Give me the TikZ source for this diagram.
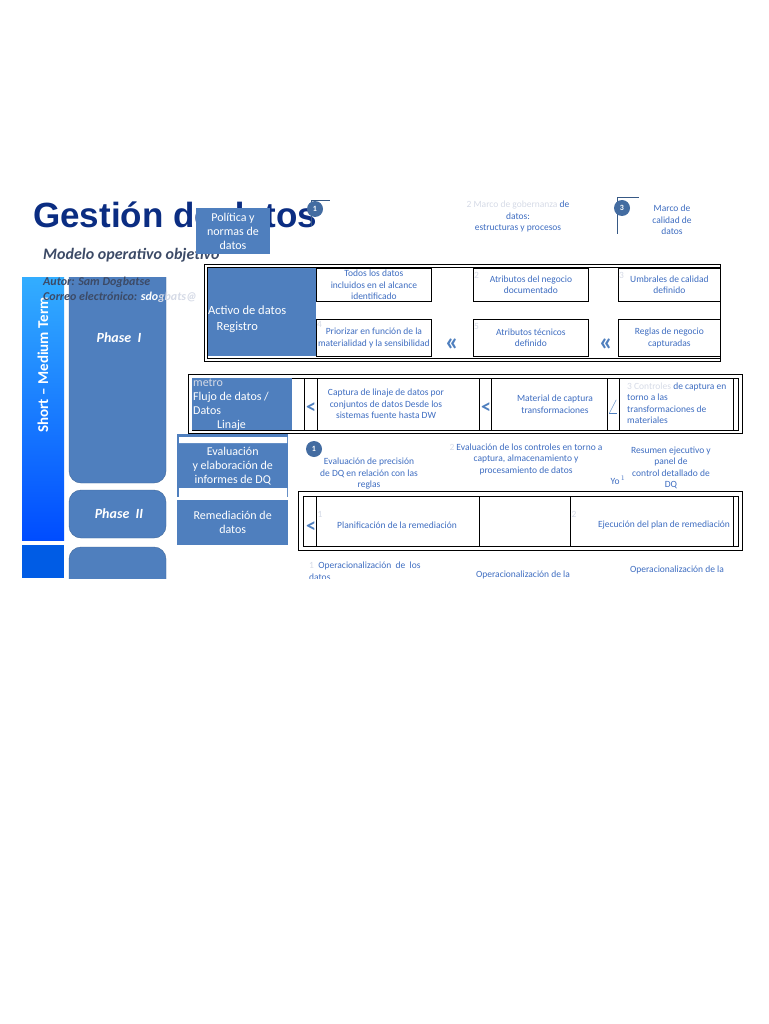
\documentclass[tikz,border=0pt]{standalone}
\usepackage{fontspec}
\setmainfont{Carlito}
\newfontfamily\titlefont{Liberation Sans}
\usetikzlibrary{positioning}
\definecolor{titleblue}{HTML}{0B2D82}
\definecolor{boxblue}{HTML}{4F7FBE}
\definecolor{txtblue}{HTML}{3D6CC0}
\definecolor{paleg}{HTML}{D5DAE6}
\definecolor{subgray}{HTML}{3C4A66}
\begin{document}
\begin{tikzpicture}[x=1pt,y=-1pt,
  bluebox/.style={fill=boxblue,text=white,font=\fontsize{12}{14}\selectfont,align=center,inner sep=1pt},
  cell/.style={draw,line width=.8pt,text=txtblue,font=\fontsize{9.5}{11.5}\selectfont,align=center,inner sep=1pt},
  lbl/.style={text=txtblue,font=\fontsize{9.5}{11.5}\selectfont,align=center,inner sep=1pt},
  num/.style={text=paleg,font=\fontsize{9.5}{11}\selectfont,inner sep=0pt},
  frame/.style={draw,line width=.8pt},
  phase/.style={fill=boxblue,rounded corners=12pt,draw=boxblue!80!black,line width=.4pt},
  bubble/.style={circle,fill=boxblue!85!black,text=white,font=\bfseries\fontsize{8}{8}\selectfont,inner sep=0pt,minimum size=16pt},
  chev/.style={text=boxblue,font=\bfseries\fontsize{26}{26}\selectfont,inner sep=0pt}]
\useasboundingbox (0,0) rectangle (768,1024);

% left bar and phases
\shade[top color=cyan!60!blue!80,bottom color=blue!70!cyan] (22,277) rectangle (64,540);
\node[rotate=90,text=white,font=\bfseries\fontsize{15}{15}\selectfont] (term) at (43,365) {Short -- Medium Term};
\fill[blue!60!cyan!90!black] (22,545) rectangle (64,578);
\begin{scope}
\clip (0,277) rectangle (768,578);
\draw[phase] (69,260) rectangle (166,483);
\draw[phase] (69,490) rectangle (166,538);
\draw[phase] (69,547) rectangle (166,600);
\end{scope}
\node[text=white,font=\bfseries\itshape\fontsize{14}{14}\selectfont] (ph1) at (119,338) {Phase~ I};
\node[text=white,font=\bfseries\itshape\fontsize{14}{14}\selectfont] (ph2) at (119,514) {Phase~ II};

% heading
\node[anchor=base west,text=titleblue,font=\titlefont\bfseries\fontsize{35}{35}\selectfont,inner sep=0pt] (title) at (33,227) {Gestión de datos};
\node[anchor=base west,text=subgray,font=\bfseries\itshape\fontsize{16}{16}\selectfont,inner sep=0pt] (sub) at (43,259) {Modelo operativo objetivo};
\node[anchor=base west,text=subgray,font=\bfseries\itshape\fontsize{12}{12}\selectfont,inner sep=0pt] (author) at (43,285) {Autor: Sam Dogbatse};
\node[anchor=base west,text=subgray,font=\bfseries\itshape\fontsize{12}{12}\selectfont,inner sep=0pt] (mail) at (43,300) {Correo electrónico: \textcolor{white}{sdo}\textcolor{paleg}{gbats@}};
\node[bluebox,minimum width=74pt,minimum height=46pt] (policy) at (233,231) {Política y\\normas de\\datos};
\draw[line width=1pt,boxblue!70!black] (311,201) -- (330,201) (311,201) -- (311,226);
\node[bubble] (b1) at (315,209) {1};
\node[lbl,anchor=north] (gov) at (518,200) {\textcolor{paleg}{2 Marco de gobernanza} de\\datos:\\estructuras y procesos};
\draw[line width=1pt,boxblue!70!black] (617,198) -- (639,198) (617,198) -- (617,234);
\node[bubble] (b3) at (622,208) {3};
\node[lbl,anchor=north] (dqf) at (672,204) {Marco de\\calidad de\\datos};

% row 1: registro
\draw[frame] (204,264) rectangle (720,361);
\draw[frame] (207,267) rectangle (720,358);
\fill[boxblue] (208,268) rectangle (316,356);
\node[anchor=west,text=white,font=\fontsize{12.5}{16}\selectfont,align=left,inner sep=0pt] (reg) at (208,319) {Activo de datos\\\ \ \ Registro};
\node[cell,minimum width=115pt,minimum height=33pt,anchor=north west] (c1) at (316,268) {Todos los datos\\incluidos en el alcance\\identificado};
\node[cell,minimum width=115pt,minimum height=33pt,anchor=north west] (c2) at (473,268) {Atributos del negocio\\documentado};
\node[cell,minimum width=102pt,minimum height=33pt,anchor=north west] (c3) at (618,268) {Umbrales de calidad\\definido};
\node[cell,minimum width=115pt,minimum height=37pt,anchor=north west] (c4) at (316,319) {Priorizar en función de la\\materialidad y la sensibilidad};
\node[cell,minimum width=115pt,minimum height=37pt,anchor=north west] (c5) at (473,319) {Atributos técnicos\\definido};
\node[cell,minimum width=102pt,minimum height=37pt,anchor=north west] (c6) at (618,319) {Reglas de negocio\\capturadas};
\node[num,anchor=north west] (n2) at (474,272) {2};
\node[num,anchor=north west] (n3) at (619,272) {3};
\node[num,anchor=north west] (n4) at (317,321) {4};
\node[num,anchor=north west] (n5) at (474,323) {5};
\node[chev] (k1) at (452,345) {«};
\node[chev] (k2) at (606,345) {«};

% row 2: linaje
\draw[frame] (188,374) rectangle (742,433);
\draw[frame] (192,378) rectangle (738,430);
\fill[boxblue] (192,378) rectangle (292,430);
\begin{scope}
\clip (192,378) rectangle (292,430);
\node[anchor=north west,text=white,font=\fontsize{12}{14}\selectfont,align=left,inner sep=0pt] (lin) at (193,379) {\textcolor{paleg}{metro}\\Flujo de datos /\\Datos\\\hspace{24pt}Linaje};
\end{scope}
\foreach \xx in {304,317,479,491,607,619,733} \draw[line width=.8pt] (\xx,378) -- (\xx,430);
\node[lbl] (l1) at (386,404) {Captura de linaje de datos por\\conjuntos de datos Desde los\\sistemas fuente hasta DW};
\node[lbl] (l2) at (555,404) {Material de captura\\transformaciones};
\node[lbl,anchor=west,align=left] (l3) at (626,403) {\textcolor{paleg}{3 Controles} de captura en\\torno a las\\transformaciones de\\materiales};
\node[chev,font=\bfseries\fontsize{20}{20}\selectfont] (a1) at (311,408) {<};
\node[chev,font=\bfseries\fontsize{20}{20}\selectfont] (a2) at (486,408) {<};
\node[chev,font=\bfseries\fontsize{20}{20}\selectfont] (a3) at (613,407) {$\angle$};

% row 3: evaluacion
\node[bluebox,anchor=north west,minimum width=111pt,minimum height=63pt] (eva) at (177,434) {Evaluación\\y elaboración de\\informes de DQ};
\fill[white] (179,437) rectangle (287,443) (179,488) rectangle (287,497);
\node[bubble] (b4) at (314,449) {1};
\node[lbl] (e1) at (369,474) {Evaluación de precisión\\de DQ en relación con las\\reglas};
\node[lbl] (e2) at (526,459) {\textcolor{paleg}{2} Evaluación de los controles en torno a\\captura, almacenamiento y\\procesamiento de datos};
\node[lbl] (e3) at (671,468) {Resumen ejecutivo y\\panel de\\control detallado de\\DQ};
\node[lbl] (yo) at (618,480) {Yo$^{\,1}$};

% row 4: remediacion
\node[bluebox,anchor=north west,minimum width=111pt,minimum height=45pt] (rem) at (177,500) {Remediación de\\datos};
\draw[frame] (298,491) rectangle (742,550);
\draw[frame] (303,496) rectangle (738,546);
\foreach \xx in {316,479,570,733} \draw[line width=.8pt] (\xx,496) -- (\xx,546);
\node[chev,font=\bfseries\fontsize{20}{20}\selectfont] (a4) at (311,527) {<};
\node[lbl] (r1) at (397,525) {Planificación de la remediación};
\node[lbl] (r2) at (664,525) {Ejecución del plan de remediación};
\node[num] (rn1) at (320,514) {1};
\node[num] (rn2) at (574,514) {2};

% bottom, cut off
\begin{scope}
\clip (0,555) rectangle (768,578);
\node[lbl,anchor=north west,align=left] (o1) at (308,561) {\textcolor{paleg}{1}~ Operacionalización~ de~ los\\datos};
\node[lbl,anchor=north] (o2) at (523,570) {Operacionalización de la\\x};
\node[lbl,anchor=north] (o3) at (677,565) {Operacionalización de la\\x};
\end{scope}
\end{tikzpicture}
\end{document}
